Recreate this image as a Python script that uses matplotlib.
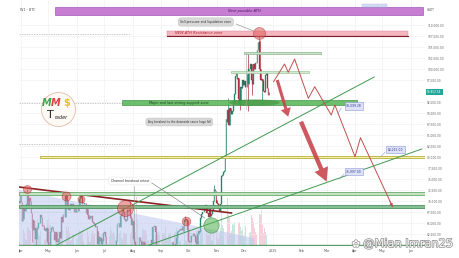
import numpy as np
import pandas as pd
import matplotlib
matplotlib.use("Agg")
import matplotlib.pyplot as plt
import matplotlib.dates as mdates
import matplotlib.patheffects as pe
from matplotlib.patches import Rectangle, Polygon, Ellipse

plt.rcParams["font.family"] = ["DejaVu Sans"]

# ---------------- BTC/USDT daily data ----------------
start_date = "2024-03-30"
first_open = 69892
closes_mar = [69645, 71333]
closes_apr = [69702, 65446, 65980, 68508, 67837, 68896, 69362, 71632, 69139, 70587,
              70060, 67195, 63821, 65738, 63426, 63811, 61276, 63513, 63843, 64994,
              64926, 66837, 66407, 64276, 64481, 63755, 63419, 63113, 63841, 60636]
closes_may = [58254, 59123, 62889, 63891, 64031, 63161, 62334, 61187, 63049, 60792,
              60793, 61448, 62901, 61552, 66267, 65231, 67051, 66940, 66278, 71448,
              70136, 69122, 67929, 68526, 69265, 68518, 69394, 68296, 67578, 68364,
              67491]
closes_jun = [67706, 67751, 68804, 70567, 71082, 70757, 69342, 69305, 69648, 69512,
              67332, 68242, 66757, 66012, 66191, 66639, 66490, 65140, 64960, 64828,
              64096, 64252, 63180, 60277, 61805, 60811, 61604, 60320, 60887, 62678]
closes_jul = [62851, 62029, 60174, 56662, 56639, 58230, 55857, 56714, 58052, 57725,
              57339, 57889, 59204, 60797, 64724, 65043, 64087, 63987, 66661, 67139,
              68165, 67532, 65936, 65372, 65777, 67912, 67813, 68255, 66819, 66201,
              64619]
closes_aug = [65357, 61415, 60680, 58116, 53991, 56034, 55027, 61710, 60880, 60945,
              58719, 59355, 60610, 58737, 57560, 58894, 59479, 58483, 59493, 59012,
              61175, 60381, 64094, 64178, 64333, 62880, 59504, 59027, 59388, 59119,
              58969]
closes_sep = [57326, 59113, 57484, 57971, 56160, 53949, 54140, 54841, 57019, 57648,
              57343, 58127, 60571, 60005, 59182, 58192, 60309, 61649, 62940, 63193,
              63348, 63578, 63339, 64262, 63143, 65181, 65790, 65887, 65635, 63329]
closes_oct = [60837, 60632, 60759, 62067, 62090, 62818, 62236, 62131, 60582, 60274,
              62445, 63193, 62851, 66046, 67042, 67612, 67399, 68418, 68362, 69001,
              67367, 67361, 66432, 68161, 66643, 67014, 67929, 69907, 72720, 72339,
              70215]
closes_nov = [69482, 69289, 68741, 67811, 69359, 75639, 75905, 76545, 76778, 80474,
              88701, 87955, 90585, 87250, 91067, 90558, 89845, 90542, 92343, 94339,
              98504, 98997, 97777, 98013, 93102, 91986, 95962, 95652, 97461, 96449]
closes_dec = [97279, 95865, 96002, 98768, 96593, 99921, 99923, 101236, 97432, 96675,
              101173, 100043, 101459, 101373, 104298, 106029, 106140, 100041, 97490, 97756,
              97225, 95104, 94686, 98676, 99299, 95795, 94164, 94852.54]

# daily volume, thousand BTC
vol_mar = [10, 14]
vol_apr = [38, 52, 42, 38, 30, 16, 14, 42, 40, 36, 34, 50, 62, 48, 46, 40, 55, 44, 60, 30,
           22, 34, 30, 34, 26, 22, 14, 16, 30, 58]
vol_may = [62, 48, 48, 24, 22, 28, 26, 28, 26, 30, 14, 12, 30, 28, 46, 36, 32, 12, 18, 50,
           44, 34, 42, 28, 12, 14, 24, 26, 24, 26, 28]
vol_jun = [16, 16, 28, 36, 34, 30, 36, 12, 12, 24, 40, 48, 34, 22, 10, 12, 28, 34, 24, 30,
           26, 10, 12, 48, 34, 28, 22, 26, 10, 14]
vol_jul = [24, 26, 42, 60, 78, 24, 22, 42, 34, 30, 32, 26, 14, 22, 44, 46, 32, 30, 34, 18,
           14, 28, 30, 26, 30, 32, 26, 18, 42, 30, 32]
vol_aug = [46, 56, 30, 32, 110, 60, 40, 56, 30, 14, 18, 40, 36, 34, 36, 26, 12, 14, 28, 24,
           28, 26, 40, 16, 14, 26, 42, 24, 32, 26, 12]
vol_sep = [14, 22, 28, 30, 30, 42, 16, 14, 28, 26, 30, 24, 36, 14, 12, 30, 32, 40, 34, 30,
           12, 12, 24, 30, 28, 32, 34, 14, 12, 28]
vol_oct = [44, 38, 30, 28, 12, 12, 28, 22, 26, 34, 30, 12, 12, 38, 40, 30, 26, 26, 10, 12,
           30, 24, 26, 24, 36, 14, 12, 28, 50, 34, 40]
vol_nov = [34, 18, 16, 30, 40, 90, 48, 40, 28, 50, 100, 110, 108, 70, 62, 30, 34, 50, 48, 54,
           80, 60, 40, 36, 52, 54, 42, 34, 38, 22]
vol_dec = [30, 44, 44, 46, 82, 62, 30, 32, 70, 62, 54, 40, 32, 24, 34, 48, 46, 72, 70, 80,
           46, 28, 40, 32, 24, 30, 30, 20]

# notable intraday extremes
wick_high = {"2024-04-08": 72797, "2024-05-21": 71980, "2024-06-07": 71997,
             "2024-07-29": 70079, "2024-09-27": 66498, "2024-10-29": 73620,
             "2024-11-13": 93434, "2024-11-22": 99655, "2024-12-05": 103900,
             "2024-12-17": 108353, "2024-12-18": 106500}
wick_low = {"2024-04-13": 60660, "2024-04-17": 59600, "2024-05-01": 56552,
            "2024-06-24": 58402, "2024-07-05": 53485, "2024-08-05": 49000,
            "2024-09-06": 52550, "2024-11-26": 90791, "2024-12-05": 90500,
            "2024-12-09": 94150, "2024-12-20": 92175}

# price zones (low, high)
ath_target = (112270, 114090)
ath_resistance = (107500, 108750)
range_top = (103400, 103860)
range_mid = (99100, 99550)
major_support = (91800, 92950)
yellow_level = (79700, 80250)
support_72k = (71360, 72045)
support_69k = (68410, 69090)
base_level = 60000
old_levels = [107955, 92270, 82955, 75000, 67500]

# projected path
proj_dates = ["2025-01-02", "2025-01-14", "2025-01-18", "2025-01-25", "2025-02-09",
              "2025-02-16", "2025-03-06", "2025-03-10", "2025-04-01", "2025-04-07",
              "2025-05-12"]
proj_prices = [97114, 101136, 99250, 102270, 93340, 95977, 89545, 91818, 80068, 84386, 68705]

price_ticks = [110000, 107500, 105000, 102500, 100000, 97500, 92500, 90000, 87500, 85000,
               82500, 80000, 77500, 75000, 72500, 70000, 67500, 65000, 62500]
month_ticks = ["2024-04-01", "2024-05-01", "2024-06-01", "2024-07-01", "2024-08-01",
               "2024-09-01", "2024-10-01", "2024-11-01", "2024-12-01", "2025-01-01",
               "2025-02-01", "2025-03-01", "2025-04-01", "2025-05-01", "2025-06-01"]
month_labels = ["Apr", "May", "Jun", "Jul", "Aug", "Sep", "Oct", "Nov", "Dec", "2025",
                "Feb", "Mar", "Apr", "May", "Jun"]


def D(s):
    return mdates.date2num(pd.Timestamp(s))


closes = np.array(closes_mar + closes_apr + closes_may + closes_jun + closes_jul +
                  closes_aug + closes_sep + closes_oct + closes_nov + closes_dec, float)
volumes = np.array(vol_mar + vol_apr + vol_may + vol_jun + vol_jul + vol_aug +
                   vol_sep + vol_oct + vol_nov + vol_dec, float)
dates = pd.date_range(start_date, periods=len(closes), freq="D")
xs = mdates.date2num(dates)
opens = np.r_[first_open, closes[:-1]]
highs = np.maximum(opens, closes)
lows = np.minimum(opens, closes)
for d, v in wick_high.items():
    highs[dates.get_loc(pd.Timestamp(d))] = v
for d, v in wick_low.items():
    lows[dates.get_loc(pd.Timestamp(d))] = v
up = closes >= opens
candle_colors = np.where(up, "#23856a", "#b02c3c")

# ---------------- figure ----------------
W, H = 460, 258
fig = plt.figure(figsize=(W / 100, H / 100), dpi=100)
fig.patch.set_facecolor("white")
ax = fig.add_axes([19 / W, 12 / H, 406 / W, 246 / H])
ax_v = ax.twinx()
ax_v.set_zorder(ax.get_zorder() - 1)
ax.patch.set_visible(False)

x0, x1 = D("2024-03-29") + 0.8, D("2025-06-16") + 0.5
ax.set_xlim(x0, x1)
ax.set_ylim(59773, 115682)

# volume
ax_v.bar(xs, volumes, width=0.75, color=np.where(up, "#9fd3c4", "#f2a9b6"), alpha=0.55, lw=0)
ax_v.set_ylim(0, volumes.max() / 0.2)
ax_v.axis("off")

# grid and axes
ax.set_xticks([D(m) for m in month_ticks])
ax.set_yticks(price_ticks)
ax.yaxis.tick_right()
ax.set_yticklabels([f"{p:,.2f}" for p in price_ticks])
ax.tick_params(axis="y", labelsize=2.1, pad=1.6, length=0, colors="#666666")
ax.tick_params(axis="x", labelbottom=False, length=0)
ax.grid(color="#eeeeee", lw=0.4)
for s in ax.spines.values():
    s.set_visible(False)

# candles
ax.vlines(xs, lows, highs, colors=candle_colors, lw=0.5, zorder=2)
ax.bar(xs, np.abs(closes - opens), bottom=np.minimum(opens, closes), width=0.85,
       color=candle_colors, ec=candle_colors, lw=0.25, zorder=2)

# descending channel shading and trend line
ax.add_patch(Polygon([(x0, 72500), (D("2024-12-12"), 61590), (D("2024-12-12"), 59773), (x0, 59773)],
                     closed=True, fc="#bcc8f0", ec="none", alpha=0.55, zorder=3))
ax.plot([x0, D("2024-11-17")], [73180, 67270], color="#8b2323", lw=1.2, zorder=4)

# old dashed levels
for lv in old_levels:
    ax.plot([x0, D("2024-07-30")], [lv, lv], color="#b5b5b5", lw=0.5, ls=(0, (2, 1.5)), zorder=1)


def zone(a, b, rng, fc, ec, lw=0.5, alpha=1.0, z=4):
    ax.add_patch(Rectangle((a, rng[0]), b - a, rng[1] - rng[0], fc=fc, ec=ec, lw=lw,
                           alpha=alpha, zorder=z))


zone(D("2024-05-08"), D("2025-06-14"), ath_target, "#c77dd2", "#8e44ad", 0.4)
zone(D("2025-04-09"), D("2025-05-06"), (ath_target[1], 114800), "#d4dbf5", "#b0bce8", 0.3)
ax.text(D("2024-12-01"), sum(ath_target) / 2, "Next possible ATH", fontsize=2.6,
        style="italic", color="#4a1560", ha="center", va="center", zorder=6)

zone(D("2024-09-08"), D("2025-05-29"), ath_resistance, "#f6b6c0", "#d08090", 0.3)
ax.plot([D("2024-09-08"), D("2025-05-29")], [ath_resistance[0]] * 2, color="#7a1f2a", lw=0.8, zorder=5)
ax.text(D("2024-09-16"), sum(ath_resistance) / 2, "NEW ATH Resistance zone", fontsize=2.6,
        style="italic", color="#b0202a", ha="left", va="center", zorder=6)

zone(D("2024-12-01"), D("2025-02-23"), range_top, "#c9e3c9", "#8fb58f", 0.5)
zone(D("2024-11-17"), D("2025-02-10"), range_mid, "#d2ead2", "#9cc59c", 0.5)

zone(D("2024-07-20"), D("2025-04-03"), major_support, "#5cb85c", "#3d8b3d", 0.5, 0.9)
ax.add_patch(Ellipse((D("2024-12-12"), 92350), 55, 1500, fc="#3f8f3f", ec="none", alpha=0.6, zorder=5))
ax.text(D("2024-09-21"), sum(major_support) / 2, "Major and last strong support zone",
        fontsize=2.4, style="italic", color="#1c3f1c", ha="center", va="center", zorder=6)

zone(D("2024-04-22"), x1, yellow_level, "#f5f1a8", "#b8ae3a", 0.6)
zone(x0, x1, support_72k, "#c4e3c4", "#6aaa6a", 0.6)
zone(x0, x1, support_69k, "#86bf93", "#4f8f60", 0.6)
ax.axhline(base_level, color="#5a9e6a", lw=1.0, zorder=4)

# rising trend lines
ax.plot([D("2024-05-10"), D("2025-04-22")], [60000, 98180], color="#3f9a4f", lw=0.7, zorder=5)
ax.plot([D("2024-08-19"), D("2025-06-13")], [60000, 81820], color="#3f9a4f", lw=0.7, zorder=5)

# highlighted touches
red_marks = [("2024-04-08", 72700, 4), ("2024-05-20", 71136, 4.5), ("2024-06-06", 70450, 3.5),
             ("2024-07-24", 68400, 8), ("2024-09-28", 65500, 4.3), ("2024-12-17", 108150, 6)]
for d, p, r in red_marks:
    ax.scatter(D(d), p, s=(1.44 * r) ** 2, fc="#e05a5a", ec="#a02828", lw=0.5, alpha=0.55, zorder=6)
ax.scatter(D("2024-10-26"), 64545, s=(1.44 * 7.7) ** 2, fc="#5cb85c", ec="#2e7d32", lw=0.5,
           alpha=0.6, zorder=6)

# callouts
box = dict(boxstyle="round,pad=0.7,rounding_size=0.9", fc="#d8d8d8", ec="#bdbdbd", lw=0.3)
ax.text(D("2024-10-20"), 110680, "Sell pressure and liquidation zone", fontsize=2.2,
        color="#333333", ha="center", va="center", bbox=box, zorder=7)
ax.plot([D("2024-11-22"), D("2024-12-11")], [110227, 108636], color="#888888", lw=0.4, zorder=7)

ax.text(D("2024-09-21"), 87955, "Any breakout to the downside cause huge fall", fontsize=2.0,
        color="#333333", ha="center", va="center", bbox=box, zorder=7)

ax.text(D("2024-07-29"), 74545, "Channel breakout retest", fontsize=2.3, color="#333333",
        ha="center", va="center",
        bbox=dict(boxstyle="round,pad=0.6", fc="white", ec="#dddddd", lw=0.3), zorder=7)
ax.plot([D("2024-08-03")] * 2, [73400, 59773], color="#999999", lw=0.4, zorder=5)
ax.plot([D("2024-08-22"), D("2024-10-19")], [74090, 66136], color="#777777", lw=0.4, zorder=5)
ax.plot([D("2024-12-03")] * 2, [range_top[0] + 200, 90900], color="#aaaaaa", lw=0.4, zorder=5)

# projected zigzag
px = [D(d) for d in proj_dates]
ax.plot(px, proj_prices, color="#c0504d", lw=0.7, zorder=6)
ax.annotate("", xy=(px[-1], proj_prices[-1]), xytext=(px[-2] + 0.92 * (px[-1] - px[-2]),
            proj_prices[-2] + 0.92 * (proj_prices[-1] - proj_prices[-2])),
            arrowprops=dict(arrowstyle="-|>", color="#c0504d", lw=0.6, mutation_scale=4,
                            shrinkA=0, shrinkB=0), zorder=6)

# big downside arrows
ax.annotate("", xy=(D("2025-01-18"), 89160), xytext=(D("2025-01-06"), 97500),
            arrowprops=dict(arrowstyle="simple,head_length=1.2,head_width=1.5,tail_width=0.45",
                            fc="#c8464e", ec="none", alpha=0.9, mutation_scale=5,
                            shrinkA=0, shrinkB=0), zorder=7)
ax.annotate("", xy=(D("2025-03-01"), 74390), xytext=(D("2025-02-01"), 88020),
            arrowprops=dict(arrowstyle="simple,head_length=1.4,head_width=1.5,tail_width=0.45",
                            fc="#c8464e", ec="none", alpha=0.9, mutation_scale=7,
                            shrinkA=0, shrinkB=0), zorder=7)

# price notes
note_box = dict(boxstyle="square,pad=0.5", fc="#dfe2f7", ec="#8e9ad6", lw=0.4)
notes = [("90,099.28", "2025-03-31", 91590, ("2025-03-17", 91136), ("2025-03-13", 89773)),
         ("82,215.00", "2025-05-15", 81700, ("2025-05-04", 81136), ("2025-04-29", 80000)),
         ("75,997.00", "2025-03-31", 76700, ("2025-03-20", 76136), ("2025-03-15", 75000))]
for txt, d, p, a, b in notes:
    ax.plot([D(a[0]), D(b[0])], [a[1], b[1]], color="#8e9ad6", lw=0.4, zorder=7)
    ax.text(D(d), p, txt, fontsize=2.2, color="#2c3a8c", ha="center", va="center",
            bbox=note_box, zorder=8)

# last price badge and currency
ax.annotate(f"{closes[-1]:,.2f}", xy=(1, closes[-1]), xycoords=("axes fraction", "data"),
            xytext=(1.6, 0), textcoords="offset points", fontsize=2.1, color="white",
            ha="left", va="center", annotation_clip=False,
            bbox=dict(boxstyle="square,pad=0.35", fc="#26a69a", ec="none"))
ax.annotate("USDT", xy=(1, 113300), xycoords=("axes fraction", "data"), xytext=(1.6, 0),
            textcoords="offset points", fontsize=2.1, color="#555555", ha="left",
            va="center", annotation_clip=False)

# logo
lc = (D("2024-05-11"), 90900)
ax.scatter(*lc, s=(1.44 * 17) ** 2, fc="#fdfaf6", ec="#e2bba6", lw=0.6, zorder=8)
for txt, off, col, fs, st in [("M", (-8, 4.5), "#3aa84a", 7, "italic"),
                              ("M", (-1.2, 4.5), "#e0403a", 7, "italic"),
                              ("$", (6.5, 4), "#e6c229", 7, "normal"),
                              ("T", (-5.5, -4.5), "#222222", 8, "normal"),
                              ("rader", (2.8, -5.8), "#222222", 3.5, "italic")]:
    ax.annotate(txt, xy=lc, xytext=off, textcoords="offset points", fontsize=fs, color=col,
                style=st, fontweight="bold" if txt in ("M", "$") else "normal",
                ha="center", va="center", zorder=9)

# month labels on a strip clipped to the plot width
axx = fig.add_axes([19 / W, 0, 406 / W, 12 / H], sharex=ax)
axx.axis("off")
for d, lab in zip(month_ticks, month_labels):
    axx.text(D(d), 0.55, lab, fontsize=2.3, color="#555555", ha="center", va="center",
             clip_on=True)

# header and watermark
fig.text(20 / W, 1 - 10 / H, "W1 · BTC", fontsize=2.4, color="#555555", ha="left", va="center")
fig.text(408 / W, 14 / H, "@Mian Imran25", fontsize=8.2, color="white", ha="center",
         va="center", alpha=0.95,
         path_effects=[pe.withStroke(linewidth=1.0, foreground="#8a8a8a")])
fig.text(356 / W, 14 / H, "✿", fontsize=7, color="white", ha="center", va="center",
         path_effects=[pe.withStroke(linewidth=1.0, foreground="#8a8a8a")])

fig.savefig("out.png", dpi=100)
